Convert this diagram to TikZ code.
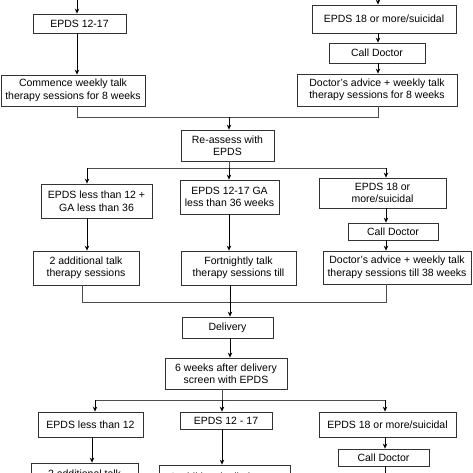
\documentclass[tikz,border=0pt]{standalone}
\usepackage{fontspec}
\setmainfont{Liberation Sans}
\usepackage{tikz}
\usetikzlibrary{calc, positioning, arrows.meta}
\tikzset{
    pathway/.style={
        font=\fontsize{10.5}{12.5}\selectfont,
        >={Stealth[length=5pt, width=4.5pt]},
        box/.style={draw=black!80, rectangle, align=center, inner sep=2pt, line width=0.8pt, fill=white},
        arrow/.style={line width=0.8pt, black, ->},
        link/.style={line width=0.8pt, black!70}
    }
}

\begin{document}
\begin{tikzpicture}[pathway, x=1pt, y=-1pt]
        \clip (0,0) rectangle (473,473);

        % First screening results
        \node[box, minimum width=93pt, minimum height=19pt] (epdsA) at (79.5,23.5) {EPDS 12-17};
        \node[box, minimum width=144pt, minimum height=31pt] (startA) at (73,90.5) {Commence weekly talk\\therapy sessions for 8 weeks};
        \node[box, minimum width=144pt, minimum height=28pt] (epdsB) at (384,19) {EPDS 18 or more/suicidal};
        \node[box, minimum width=96pt, minimum height=20pt] (callA) at (377,53) {Call Doctor};
        \node[box, minimum width=160pt, minimum height=32pt] (adviceA) at (377,90) {Doctor's advice + weekly talk\\therapy sessions for 8 weeks};

        % Re-assessment
        \node[box, minimum width=93pt, minimum height=31pt] (reassess) at (227.5,145.5) {Re-assess with\\EPDS};
        \node[box, minimum width=111pt, minimum height=34pt] (lowA) at (96.5,201) {EPDS less than 12 +\\GA less than 36};
        \node[box, minimum width=99pt, minimum height=34pt] (midA) at (229.5,197) {EPDS 12-17 GA\\less than 36 weeks};
        \node[box, minimum width=127pt, minimum height=30pt] (highA) at (382.5,193) {EPDS 18 or\\more/suicidal};
        \node[box, minimum width=90pt, minimum height=17pt] (callB) at (393,231.5) {Call Doctor};
        \node[box, minimum width=106pt, minimum height=34pt] (extraA) at (86,268) {2 additional talk\\therapy sessions};
        \node[box, minimum width=115pt, minimum height=34pt] (fortA) at (238.5,268) {Fortnightly talk\\therapy sessions till};
        \node[box, minimum width=148pt, minimum height=33pt] (adviceB) at (397,267.5) {Doctor's advice + weekly talk\\therapy sessions till 38 weeks};

        % Delivery and postnatal screening
        \node[box, minimum width=91pt, minimum height=21pt] (delivery) at (227.5,327.5) {Delivery};
        \node[box, minimum width=122pt, minimum height=31pt] (sixweeks) at (226,373.5) {6 weeks after delivery\\screen with EPDS};
        \node[box, minimum width=105pt, minimum height=25pt] (lowB) at (90.5,424.5) {EPDS less than 12};
        \node[box, minimum width=92pt, minimum height=17pt] (midB) at (226,420.5) {EPDS 12 - 17};
        \node[box, minimum width=137pt, minimum height=25pt] (highB) at (387.5,424.5) {EPDS 18 or more/suicidal};
        \node[box, minimum width=91pt, minimum height=17pt] (callC) at (383.5,457.5) {Call Doctor};
        \node[box, minimum width=107pt, minimum height=36pt] (extraB) at (84.5,481) {2 additional talk\\therapy sessions};
        \node[box, minimum width=131pt, minimum height=36pt] (addB) at (224.5,483) {4 additional talk therapy\\sessions};

        % Branch and merge points
        \coordinate (inL) at (77,-5);
        \coordinate (inR) at (378,-5);
        \coordinate (mergeA) at (229,117);
        \coordinate (splitA) at (229,168);
        \coordinate (brL) at (87,168);
        \coordinate (brR) at (386,168);
        \coordinate (mergeB) at (230,302);
        \coordinate (splitB) at (222,400);
        \coordinate (brL2) at (95,400);
        \coordinate (brR2) at (385,400);
        \coordinate (outR) at (385,490);

        % Top part
        \draw[arrow] (inL) -- (inL |- epdsA.north);
        \draw[arrow] (epdsA.south -| inL) -- (inL |- startA.north);
        \draw[arrow] (inR) -- (inR |- epdsB.north);
        \draw[arrow] (epdsB.south -| inR) -- (inR |- callA.north);
        \draw[arrow] (callA.south -| inR) -- (inR |- adviceA.north);
        \draw[link] (startA.south -| inL) -- (inL |- mergeA) -- (inR |- mergeA) -- (adviceA.south -| inR);
        \draw[arrow] (mergeA) -- (mergeA |- reassess.north);

        % Second part
        \draw[link] (reassess.south -| splitA) -- (splitA);
        \draw[link] (brL) -- (brR);
        \draw[arrow] (brL) -- (brL |- lowA.north);
        \draw[arrow] (splitA) -- (splitA |- midA.north);
        \draw[arrow] (brR) -- (brR |- highA.north);
        \draw[arrow] (lowA.south -| brL) -- (brL |- extraA.north);
        \draw[arrow] (midA.south -| splitA) -- (splitA |- fortA.north);
        \draw[arrow] (highA.south -| brR) -- (brR |- callB.north);
        \draw[arrow] (callB.south -| brR) -- (brR |- adviceB.north);
        \draw[link] (extraA.south -| 82,0) -- (82,0 |- mergeB) -- (brR |- mergeB) -- (adviceB.south -| brR);
        \draw[arrow] (fortA.south -| mergeB) -- (mergeB |- delivery.north);
        \draw[arrow] (delivery.south -| mergeB) -- (mergeB |- sixweeks.north);

        % After delivery
        \draw[link] (sixweeks.south -| splitB) -- (splitB);
        \draw[link] (brL2) -- (brR2);
        \draw[arrow] (brL2) -- (brL2 |- lowB.north);
        \draw[arrow] (splitB) -- (splitB |- midB.north);
        \draw[arrow] (brR2) -- (brR2 |- highB.north);
        \draw[arrow] (lowB.south -| 92,0) -- (92,0 |- extraB.north);
        \draw[arrow] (midB.south -| splitB) -- (splitB |- addB.north);
        \draw[arrow] (highB.south -| brR2) -- (brR2 |- callC.north);
        \draw[link, black] (callC.south -| outR) -- (outR);
    \end{tikzpicture}
\end{document}
